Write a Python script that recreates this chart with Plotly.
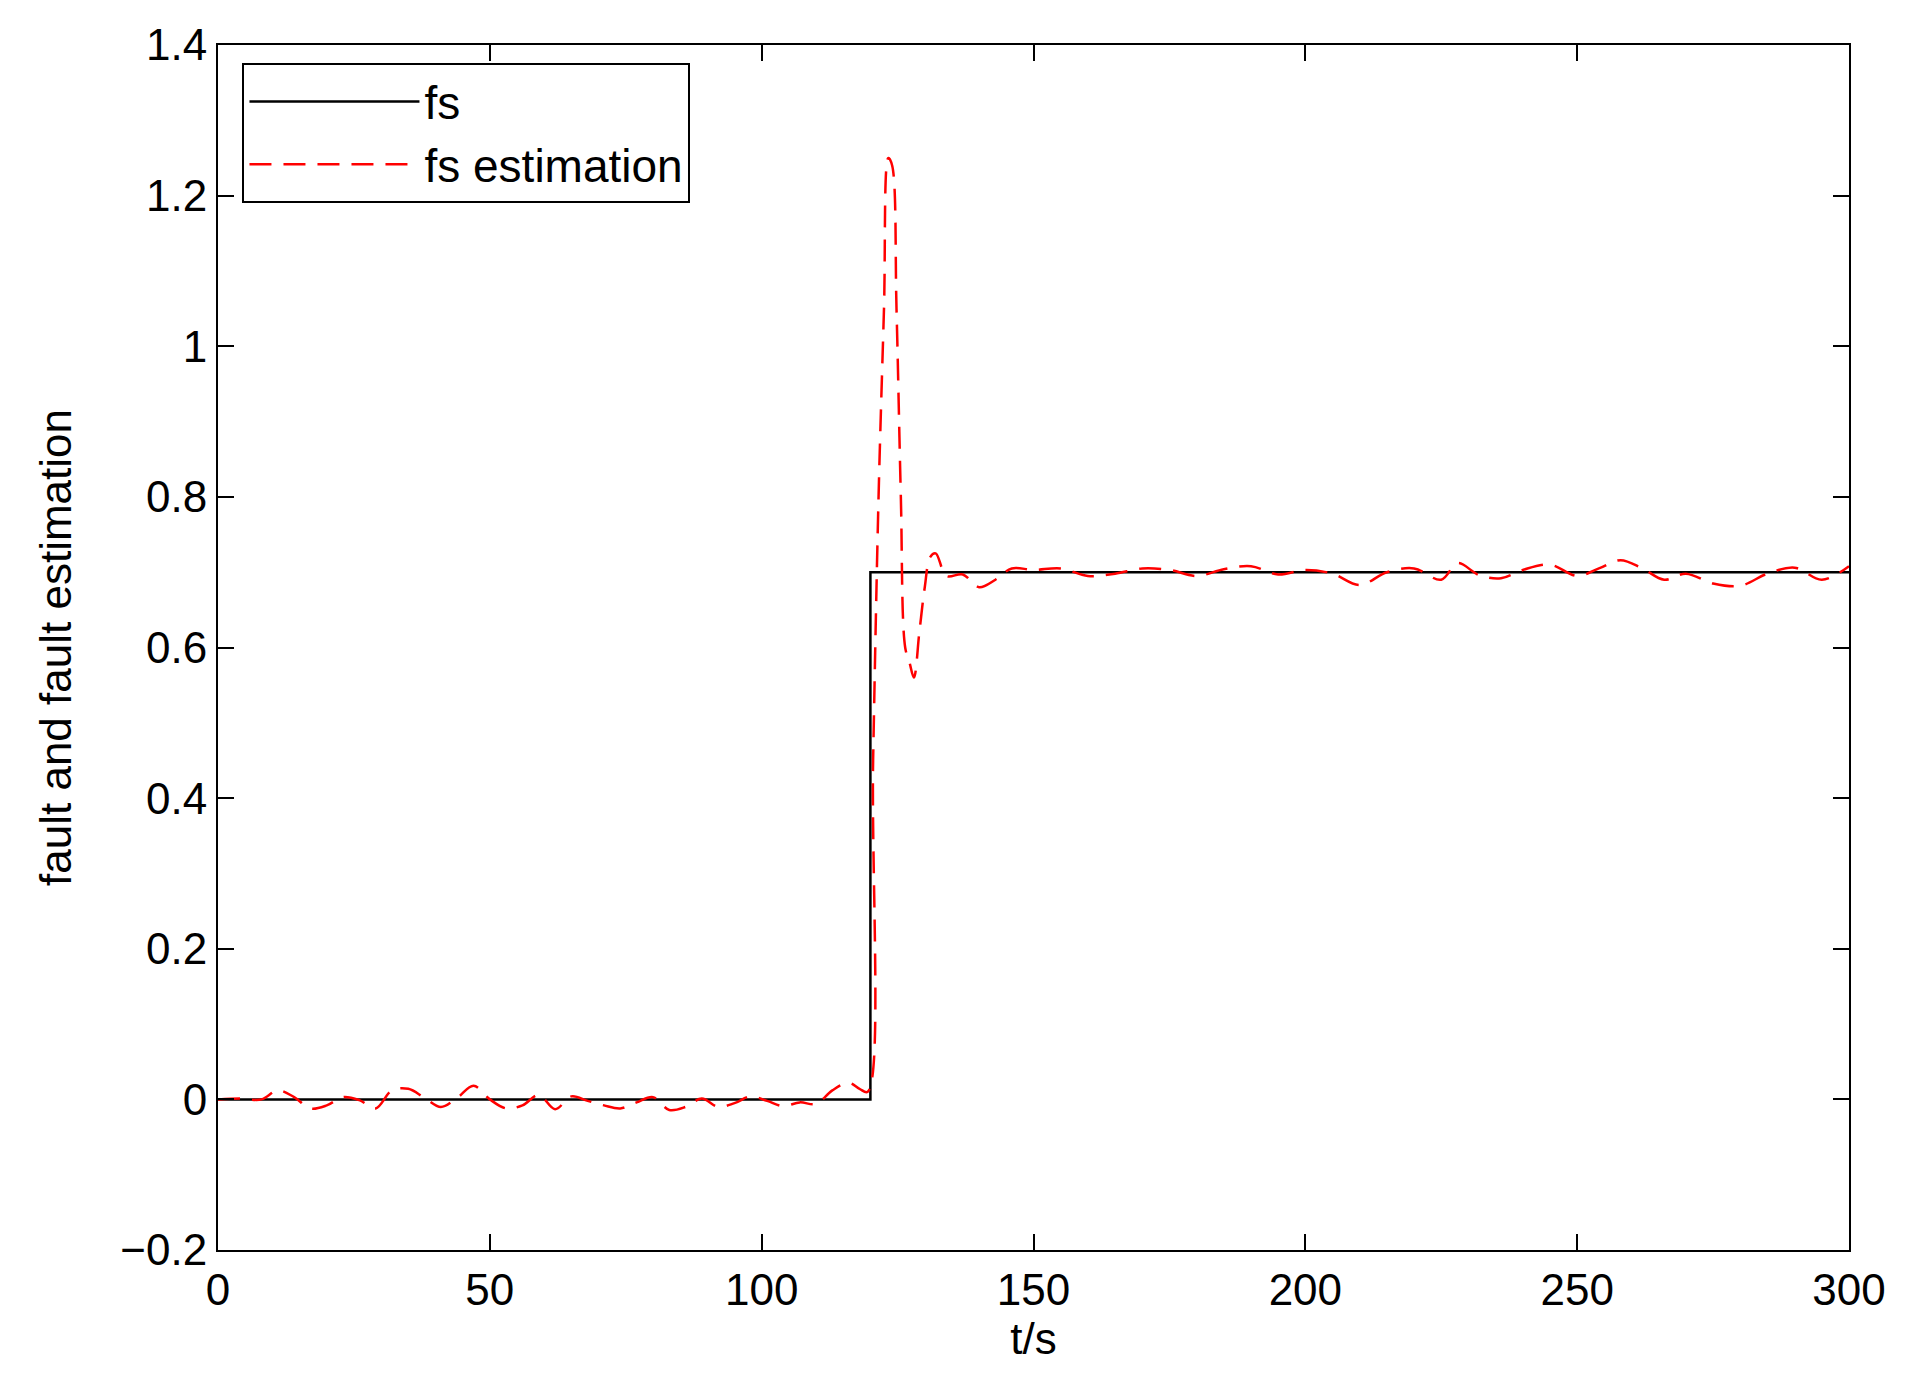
import plotly.graph_objects as go

# true fault signal (step at t=120)
fs_t = [0, 120, 120, 300]
fs_v = [0, 0, 0.7, 0.7]

# estimated fault
est_t = [0, 4, 8, 11, 14, 17, 20, 23, 26, 29, 32, 35, 38, 41, 44, 47, 50, 53, 56, 59, 62, 65, 68, 71,
         74, 77, 80, 83, 86, 89, 92, 95, 98, 101, 104, 107, 110, 113, 116, 118, 119.5, 120.5, 121.5,
         122.5, 123.3, 124, 124.8, 125.6, 126.4, 127.2, 128, 129, 130, 131, 132, 134, 137, 140, 143,
         146, 150, 155, 160, 165, 170, 175, 180, 185, 190, 195, 200, 205, 210, 215, 220, 225, 228,
         232, 236, 240, 245, 250, 254, 258, 262, 266, 270, 275, 280, 285, 290, 295, 300]
est_v = [0, 0.001, 0.0, 0.012, 0.003, -0.012, -0.008, 0.003, -0.001, -0.012, 0.012, 0.014, 0.002,
         -0.01, 0.002, 0.018, 0.0, -0.012, -0.008, 0.006, -0.013, 0.004, -0.002, -0.008, -0.012,
         -0.004, 0.003, -0.014, -0.01, 0.001, -0.01, -0.005, 0.004, -0.002, -0.009, -0.004, -0.006,
         0.012, 0.022, 0.014, 0.01, 0.45, 0.8, 1.05, 1.25, 1.24, 1.05, 0.8, 0.6, 0.58, 0.56, 0.62,
         0.68, 0.72, 0.725, 0.695, 0.697, 0.68, 0.69, 0.705, 0.703, 0.705, 0.695, 0.698, 0.705, 0.703,
         0.695, 0.704, 0.708, 0.697, 0.703, 0.698, 0.683, 0.7, 0.705, 0.69, 0.712, 0.696, 0.692,
         0.703, 0.71, 0.695, 0.705, 0.716, 0.705, 0.69, 0.698, 0.685, 0.682, 0.698, 0.706, 0.69, 0.708]

fig = go.Figure()
fig.add_trace(go.Scatter(x=fs_t, y=fs_v, mode="lines", name="fs",
                         line=dict(color="black", width=2.5)))
fig.add_trace(go.Scatter(x=est_t, y=est_v, mode="lines", name="fs estimation", line_shape="spline",
                         line=dict(color="red", width=2.5, dash="22px,12px")))

axis = dict(showline=True, linecolor="black", linewidth=2, mirror="ticks", ticks="inside",
            ticklen=16, tickwidth=2, tickcolor="black", showgrid=False, zeroline=False,
            tickfont=dict(size=44, color="black"))
fig.update_layout(
    width=1915, height=1392, paper_bgcolor="white", plot_bgcolor="white",
    font=dict(family="Liberation Sans, Arial", color="black"),
    margin=dict(l=210, r=74, t=27, b=150),
    xaxis=dict(axis, range=[0, 300], tickvals=[0, 50, 100, 150, 200, 250, 300],
               title=dict(text="t/s", font=dict(size=44), standoff=8)),
    yaxis=dict(axis, range=[-0.2, 1.4], tickvals=[-0.2, 0, 0.2, 0.4, 0.6, 0.8, 1, 1.2, 1.4],
               ticktext=["\u22120.2", "0", "0.2", "0.4", "0.6", "0.8", "1", "1.2", "1.4"],
               title=dict(text="fault and fault estimation", font=dict(size=44), standoff=35)),
    legend=dict(x=0.015, y=0.985, xanchor="left", yanchor="top", bgcolor="white",
                bordercolor="black", borderwidth=2, font=dict(size=46), itemwidth=170,
                tracegroupgap=0),
    showlegend=True,
)
fig.write_html("out.html")
